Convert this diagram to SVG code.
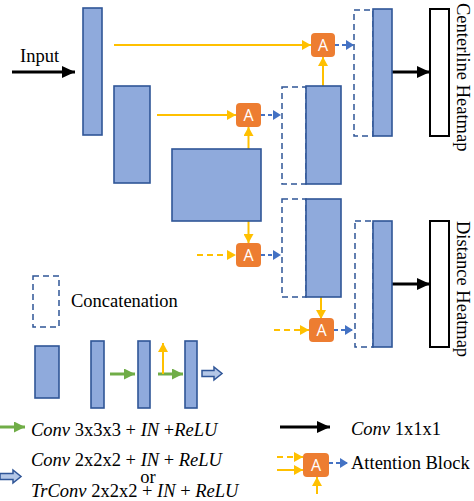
<svg xmlns="http://www.w3.org/2000/svg" width="474" height="501" viewBox="0 0 474 501">
<style>
.blk{fill:#8FAADC;stroke:#2F5597;stroke-width:1.6}
.cat{fill:none;stroke:#2F5597;stroke-width:1.5;stroke-dasharray:6,4}
.hm{fill:#fff;stroke:#000;stroke-width:2}
.ab{fill:#ED7D31}
.at{fill:#fff;font-family:"Open Sans","Liberation Sans",sans-serif;font-size:16px;text-anchor:middle}
.t{font-family:"Liberation Serif",serif;font-size:18.5px;fill:#000}
.yl{stroke:#FFC000;stroke-width:2;fill:none;marker-end:url(#my)}
.yd{stroke:#FFC000;stroke-width:2;fill:none;stroke-dasharray:6,4;marker-end:url(#my)}
.bd{stroke:#4472C4;stroke-width:2;fill:none;stroke-dasharray:4,3;marker-end:url(#mb)}
.bk{stroke:#000;stroke-width:3;fill:none;marker-end:url(#mk)}
.gr{stroke:#70AD47;stroke-width:3;fill:none;marker-end:url(#mg)}
.ha{fill:#B4C7E7;stroke:#2F5597;stroke-width:1.5}
</style>
<defs>
<marker id="my" markerUnits="userSpaceOnUse" markerWidth="9" markerHeight="10" refX="9" refY="5" orient="auto"><path d="M0,0 L9,5 L0,10 z" fill="#FFC000"/></marker>
<marker id="mb" markerUnits="userSpaceOnUse" markerWidth="8" markerHeight="10" refX="8" refY="5" orient="auto"><path d="M0,0 L8,5 L0,10 z" fill="#4472C4"/></marker>
<marker id="mk" markerUnits="userSpaceOnUse" markerWidth="13" markerHeight="12" refX="13" refY="6" orient="auto"><path d="M0,0 L13,6 L0,12 z" fill="#000"/></marker>
<marker id="mg" markerUnits="userSpaceOnUse" markerWidth="11" markerHeight="11" refX="11" refY="5.5" orient="auto"><path d="M0,0 L11,5.5 L0,11 z" fill="#70AD47"/></marker>
</defs>

<g id="connectors">
<line class="bk" x1="12" y1="72" x2="75" y2="72"/>
<line class="yl" x1="114" y1="45" x2="311" y2="45"/>
<line class="yl" x1="157" y1="115" x2="236" y2="115"/>
<line class="yl" x1="248.5" y1="149" x2="248.5" y2="127"/>
<line class="yl" x1="323" y1="86" x2="323" y2="57"/>
<line class="yl" x1="248.5" y1="221" x2="248.5" y2="243"/>
<line class="yd" x1="197" y1="255" x2="236" y2="255"/>
<line class="yl" x1="321" y1="297" x2="321" y2="319"/>
<line class="yd" x1="274" y1="330" x2="309" y2="330"/>
<line class="bd" x1="335" y1="45" x2="354" y2="45"/>
<line class="bd" x1="261" y1="115" x2="281" y2="115"/>
<line class="bd" x1="261" y1="255" x2="281" y2="255"/>
<line class="bd" x1="334" y1="330" x2="353" y2="330"/>
<line class="bk" x1="392" y1="72" x2="430" y2="72"/>
<line class="bk" x1="392" y1="284" x2="430" y2="284"/>
</g>

<g id="input"><text class="t" x="20" y="62">Input</text></g>

<g id="enc1"><rect class="blk" x="83" y="8" width="19" height="127"/></g>
<g id="enc2"><rect class="blk" x="114" y="86" width="36" height="97"/></g>
<g id="bottleneck"><rect class="blk" x="172" y="149" width="89" height="72"/></g>

<g id="concat1"><rect class="cat" x="354" y="10" width="19" height="126"/></g>
<g id="dec1"><rect class="blk" x="373" y="9" width="19" height="127"/></g>
<g id="concat2"><rect class="cat" x="282" y="87" width="24" height="97"/></g>
<g id="dec2"><rect class="blk" x="306" y="86" width="35" height="98"/></g>
<g id="concat3"><rect class="cat" x="282" y="199" width="24" height="98"/></g>
<g id="dec3"><rect class="blk" x="306" y="199" width="35" height="98"/></g>
<g id="concat4"><rect class="cat" x="355" y="221" width="18" height="126"/></g>
<g id="dec4"><rect class="blk" x="373" y="221" width="19" height="126"/></g>

<g id="centerline"><rect class="hm" x="430" y="9" width="19" height="127"/>
<text class="t" transform="translate(457,3) rotate(90)">Centerline Heatmap</text></g>
<g id="distance"><rect class="hm" x="430" y="221" width="19" height="126"/>
<text class="t" transform="translate(457,221) rotate(90)">Distance Heatmap</text></g>

<g id="att1"><rect class="ab" x="311" y="33" width="24" height="24" rx="4"/><text class="at" x="323" y="51">A</text></g>
<g id="att2"><rect class="ab" x="236" y="103" width="25" height="24" rx="4"/><text class="at" x="248.5" y="121">A</text></g>
<g id="att3"><rect class="ab" x="236" y="243" width="25" height="24" rx="4"/><text class="at" x="248.5" y="261">A</text></g>
<g id="att4"><rect class="ab" x="309" y="318" width="25" height="24" rx="4"/><text class="at" x="321.5" y="336">A</text></g>

<g id="legend-concat"><rect class="cat" x="33" y="276" width="26" height="51"/>
<text class="t" x="71" y="307">Concatenation</text></g>

<g id="legend-blocks">
<rect class="blk" x="35" y="346" width="24" height="52"/>
<rect class="blk" x="91" y="341" width="13" height="67"/>
<rect class="blk" x="138" y="341" width="12" height="67"/>
<rect class="blk" x="185" y="341" width="12" height="67"/>
<line class="gr" x1="110" y1="374" x2="135" y2="374"/>
<line class="gr" x1="158" y1="374" x2="183" y2="374"/>
<line class="yl" x1="163" y1="374" x2="163" y2="343"/>
<path class="ha" d="M202,370.5 L214,370.5 L214,367 L222,373.5 L214,380 L214,376.5 L202,376.5 z"/>
</g>

<g id="legend-conv3">
<line class="gr" x1="0" y1="427" x2="25" y2="427"/>
<text class="t" x="31" y="436"><tspan font-style="italic">Conv</tspan> 3x3x3 + <tspan font-style="italic">IN</tspan> +<tspan font-style="italic">ReLU</tspan></text>
</g>
<g id="legend-conv2">
<path class="ha" d="M0,473.5 L13,473.5 L13,470 L21,476.5 L13,483 L13,479.5 L0,479.5 z"/>
<text class="t" x="31" y="466"><tspan font-style="italic">Conv</tspan> 2x2x2 + <tspan font-style="italic">IN</tspan> + <tspan font-style="italic">ReLU</tspan></text>
<text class="t" x="148" y="483" text-anchor="middle">or</text>
<text class="t" x="31" y="497"><tspan font-style="italic">TrConv</tspan> 2x2x2 + <tspan font-style="italic">IN</tspan> + <tspan font-style="italic">ReLU</tspan></text>
</g>
<g id="legend-conv1">
<line class="bk" x1="280" y1="427" x2="330" y2="427"/>
<text class="t" x="351" y="435"><tspan font-style="italic">Conv</tspan> 1x1x1</text>
</g>
<g id="legend-att">
<line class="yd" x1="277" y1="457" x2="303" y2="457"/>
<line class="yl" x1="277" y1="470" x2="303" y2="470"/>
<line class="yl" x1="317" y1="494" x2="317" y2="477"/>
<rect class="ab" x="303" y="453" width="26" height="24" rx="4"/><text class="at" x="316" y="471">A</text>
<line class="bd" x1="329" y1="463" x2="348" y2="463"/>
<text class="t" x="351" y="469">Attention Block</text>
</g>
</svg>
